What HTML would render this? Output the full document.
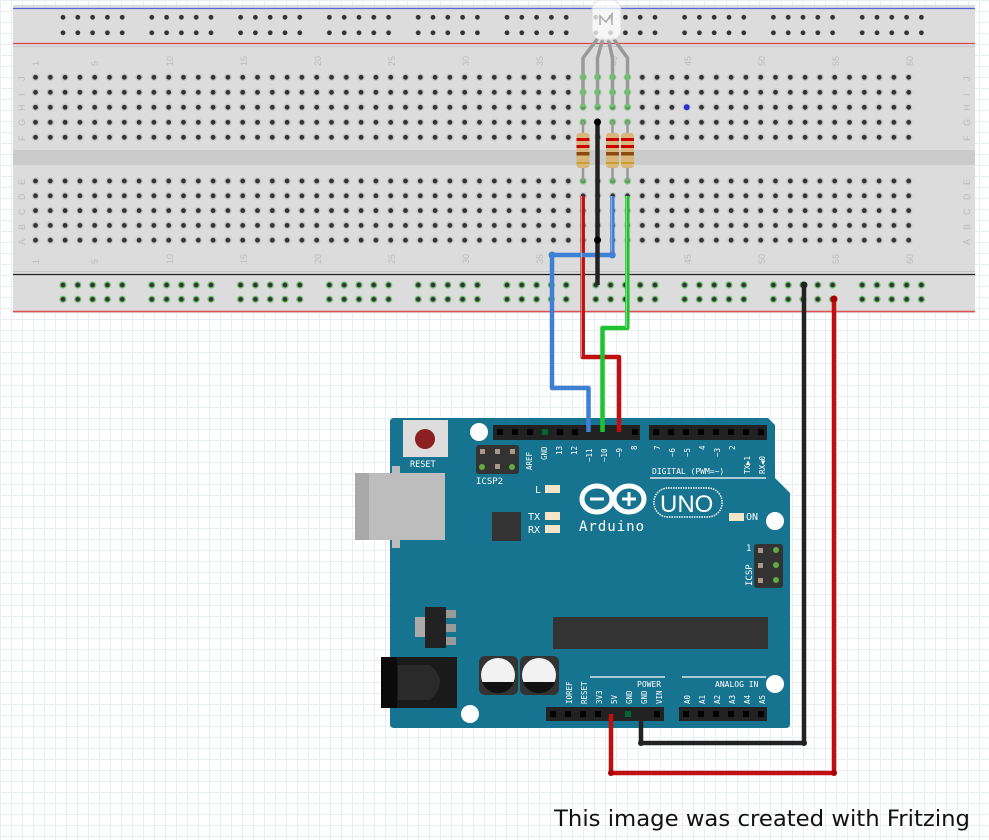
<!DOCTYPE html>
<html><head><meta charset="utf-8"><style>
html,body{margin:0;padding:0;background:#fff}
body{width:989px;height:840px;overflow:hidden;position:relative;
background-image:linear-gradient(#e9eef2 1px,transparent 1px),linear-gradient(90deg,#e9eef2 1px,transparent 1px);background-size:11px 11px}
svg{position:absolute;left:0;top:0}
</style></head><body>
<svg width="989" height="840" viewBox="0 0 989 840" font-family="Liberation Sans, sans-serif">
<defs>
<pattern id="h" x="28.5" y="70" width="14.8" height="15" patternUnits="userSpaceOnUse">
<circle cx="7" cy="7.3" r="3.8" fill="#c8c8c8"/><circle cx="7" cy="7.3" r="2.4" fill="#333"/></pattern>
<pattern id="hb" x="28.5" y="174" width="14.8" height="14.8" patternUnits="userSpaceOnUse">
<circle cx="7" cy="7" r="3.8" fill="#c8c8c8"/><circle cx="7" cy="7" r="2.4" fill="#333"/></pattern>
<pattern id="rt" x="56" y="10" width="88.8" height="15.5" patternUnits="userSpaceOnUse">
<g fill="#333"><circle cx="7" cy="7.3" r="2.4"/><circle cx="21.8" cy="7.3" r="2.4"/><circle cx="36.6" cy="7.3" r="2.4"/><circle cx="51.4" cy="7.3" r="2.4"/><circle cx="66.2" cy="7.3" r="2.4"/></g></pattern>
<pattern id="rb" x="56" y="278" width="88.8" height="14.3" patternUnits="userSpaceOnUse">
<g fill="#2a2" opacity=".6"><circle cx="7" cy="7" r="3.6"/><circle cx="21.8" cy="7" r="3.6"/><circle cx="36.6" cy="7" r="3.6"/><circle cx="51.4" cy="7" r="3.6"/><circle cx="66.2" cy="7" r="3.6"/></g>
<g fill="#333"><circle cx="7" cy="7" r="2.3"/><circle cx="21.8" cy="7" r="2.3"/><circle cx="36.6" cy="7" r="2.3"/><circle cx="51.4" cy="7" r="2.3"/><circle cx="66.2" cy="7" r="2.3"/></g></pattern>
</defs>
<rect x="13" y="5" width="962" height="308" fill="#dcdcdc"/>
<line x1="13" y1="8.5" x2="975" y2="8.5" stroke="#5a64d8" stroke-width="1.2"/>
<line x1="13" y1="43.5" x2="975" y2="43.5" stroke="#d84848" stroke-width="1.2"/>
<line x1="13" y1="46.5" x2="975" y2="46.5" stroke="#c6c6c6" stroke-width="1"/>
<rect x="13" y="150" width="962" height="15" fill="#cbcbcb"/>
<line x1="13" y1="271.5" x2="975" y2="271.5" stroke="#c6c6c6"/>
<line x1="13" y1="274.5" x2="975" y2="274.5" stroke="#222" stroke-width="1.2"/>
<line x1="13" y1="311.5" x2="975" y2="311.5" stroke="#e05050" stroke-width="1.5"/>
<rect x="28" y="70" width="890" height="75" fill="url(#h)"/>
<rect x="28" y="174" width="890" height="74" fill="url(#hb)"/>
<rect x="56" y="10" width="876" height="31" fill="url(#rt)"/>
<rect x="56" y="278" width="876" height="29" fill="url(#rb)"/>
<g fill="#bbb" font-size="9">
<g transform="rotate(-90)">
<text x="-66" y="39">1</text><text x="-66" y="98">5</text><text x="-66" y="173">10</text><text x="-66" y="247">15</text><text x="-66" y="321">20</text><text x="-66" y="395">25</text><text x="-66" y="469">30</text><text x="-66" y="543">35</text><text x="-66" y="617">40</text><text x="-66" y="691">45</text><text x="-66" y="765">50</text><text x="-66" y="839">55</text><text x="-66" y="913">60</text>
<text x="-264" y="39">1</text><text x="-264" y="98">5</text><text x="-264" y="173">10</text><text x="-264" y="247">15</text><text x="-264" y="321">20</text><text x="-264" y="395">25</text><text x="-264" y="469">30</text><text x="-264" y="543">35</text><text x="-264" y="691">45</text><text x="-264" y="765">50</text><text x="-264" y="839">55</text><text x="-264" y="913">60</text>
<text x="-81" y="25">J</text><text x="-96" y="25">I</text><text x="-111" y="25">H</text><text x="-126" y="25">G</text><text x="-141" y="25">F</text>
<text x="-185" y="25">E</text><text x="-200" y="25">D</text><text x="-215" y="25">C</text><text x="-230" y="25">B</text><text x="-245" y="25">A</text>
<text x="-81" y="970">J</text><text x="-96" y="970">I</text><text x="-111" y="970">H</text><text x="-126" y="970">G</text><text x="-141" y="970">F</text>
<text x="-185" y="970">E</text><text x="-200" y="970">D</text><text x="-215" y="970">C</text><text x="-230" y="970">B</text><text x="-245" y="970">A</text>
</g></g>
<circle cx="686.7" cy="107.3" r="3" fill="#3030d0"/>
<g fill="none" stroke="#999" stroke-width="3.5">
<path d="M598 38 L583 58 V107"/><path d="M603 38 L597.5 58 V107"/><path d="M608 38 L612.5 58 V107"/><path d="M613 38 L627.5 58 V107"/>
</g>
<g fill="#6c6" opacity=".7"><circle cx="583" cy="77" r="3.5"/><circle cx="597.5" cy="77" r="3.5"/><circle cx="612.5" cy="77" r="3.5"/><circle cx="627.5" cy="77" r="3.5"/>
<circle cx="583" cy="92" r="3.5"/><circle cx="597.5" cy="92" r="3.5"/><circle cx="612.5" cy="92" r="3.5"/><circle cx="627.5" cy="92" r="3.5"/>
<circle cx="583" cy="107" r="3.5"/><circle cx="597.5" cy="107" r="3.5"/><circle cx="612.5" cy="107" r="3.5"/><circle cx="627.5" cy="107" r="3.5"/>
<circle cx="583" cy="122" r="3.5"/><circle cx="612.5" cy="122" r="3.5"/><circle cx="627.5" cy="122" r="3.5"/>
<circle cx="583" cy="181" r="3.5"/><circle cx="612.5" cy="181" r="3.5"/><circle cx="627.5" cy="181" r="3.5"/></g>
<rect x="592" y="0" width="29" height="40" rx="10" fill="#fff" opacity=".75" stroke="#ddd"/>
<path d="M600 25 V16 L606 22 L612 14 V25" fill="none" stroke="#aaa" stroke-width="1.5"/>
<g>
<line x1="583" y1="121" x2="583" y2="181" stroke="#999" stroke-width="2.5"/>
<line x1="612.5" y1="121" x2="612.5" y2="181" stroke="#999" stroke-width="2.5"/>
<line x1="627.5" y1="121" x2="627.5" y2="181" stroke="#999" stroke-width="2.5"/>
<g fill="#d9b77a"><rect x="576.5" y="133" width="13" height="35" rx="3"/><rect x="606" y="133" width="13" height="35" rx="3"/><rect x="621" y="133" width="13" height="35" rx="3"/></g>
<g fill="#c00"><rect x="576.5" y="138" width="13" height="3"/><rect x="576.5" y="145" width="13" height="3"/><rect x="606" y="138" width="13" height="3"/><rect x="606" y="145" width="13" height="3"/><rect x="621" y="138" width="13" height="3"/><rect x="621" y="145" width="13" height="3"/></g>
<g fill="#8a4a10"><rect x="576.5" y="152" width="13" height="3.5"/><rect x="606" y="152" width="13" height="3.5"/><rect x="621" y="152" width="13" height="3.5"/></g>
<g fill="#c9a030"><rect x="576.5" y="162" width="13" height="2"/><rect x="606" y="162" width="13" height="2"/><rect x="621" y="162" width="13" height="2"/></g>
</g>
<path d="M394 418 H768 L775 425 V478 L790 493 V724 Q790 728 786 728 H394 Q390 728 390 724 V422 Q390 418 394 418Z" fill="#167490"/>
<g fill="#fff"><circle cx="479" cy="432" r="9"/><circle cx="775" cy="521" r="9"/><circle cx="775" cy="684" r="9"/><circle cx="470" cy="714" r="9"/></g>
<rect x="493" y="425" width="147" height="15" fill="#222"/>
<rect x="649" y="425" width="118" height="15" fill="#222"/>
<g fill="#000"><rect x="497" y="429" width="6" height="6"/><rect x="512" y="429" width="6" height="6"/><rect x="527" y="429" width="6" height="6"/><rect x="542" y="429" width="6" height="6" fill="#063"/><rect x="557" y="429" width="6" height="6"/><rect x="572" y="429" width="6" height="6"/><rect x="632" y="429" width="6" height="6"/>
<rect x="653" y="429" width="6" height="6"/><rect x="668" y="429" width="6" height="6"/><rect x="683" y="429" width="6" height="6"/><rect x="698" y="429" width="6" height="6"/><rect x="713" y="429" width="6" height="6"/><rect x="728" y="429" width="6" height="6"/><rect x="743" y="429" width="6" height="6"/><rect x="758" y="429" width="6" height="6"/></g>
<rect x="546" y="707" width="118" height="14" fill="#222"/>
<rect x="679" y="707" width="88" height="14" fill="#222"/>
<g fill="#000"><rect x="550" y="711" width="6" height="6"/><rect x="565" y="711" width="6" height="6"/><rect x="580" y="711" width="6" height="6"/><rect x="595" y="711" width="6" height="6"/><rect x="625" y="711" width="6" height="6" fill="#063"/><rect x="654" y="711" width="6" height="6"/>
<rect x="683" y="711" width="6" height="6"/><rect x="698" y="711" width="6" height="6"/><rect x="713" y="711" width="6" height="6"/><rect x="728" y="711" width="6" height="6"/><rect x="743" y="711" width="6" height="6"/><rect x="758" y="711" width="6" height="6"/></g>
<g fill="#fff" font-size="7.5" font-family="DejaVu Sans Mono, monospace">
<g transform="rotate(-90)">
<text x="-470" y="532">AREF</text><text x="-460" y="547">GND</text><text x="-455" y="562">13</text><text x="-455" y="577">12</text><text x="-462" y="592">~11</text><text x="-462" y="607">~10</text><text x="-457" y="622">~9</text><text x="-450" y="637">8</text>
<text x="-450" y="660">7</text><text x="-457" y="675">~6</text><text x="-457" y="690">~5</text><text x="-450" y="705">4</text><text x="-457" y="720">~3</text><text x="-450" y="735">2</text><text x="-474" y="750">TX▶1</text><text x="-474" y="765">RX◀0</text>
<text x="-704" y="572">IOREF</text><text x="-704" y="587">RESET</text><text x="-704" y="602">3V3</text><text x="-704" y="617">5V</text><text x="-704" y="632">GND</text><text x="-704" y="647">GND</text><text x="-704" y="662">VIN</text>
<text x="-704" y="690">A0</text><text x="-704" y="705">A1</text><text x="-704" y="720">A2</text><text x="-704" y="735">A3</text><text x="-704" y="750">A4</text><text x="-704" y="765">A5</text>
<text x="-586" y="752" font-size="9">ICSP</text>
</g>
<text x="652" y="474" font-size="8">DIGITAL (PWM=~)</text>
<text x="637" y="687" font-size="8">POWER</text>
<text x="715" y="687" font-size="8">ANALOG IN</text>
<text x="410" y="467" font-size="8.5">RESET</text>
<text x="476" y="484" font-size="9">ICSP2</text>
<text x="535" y="493" font-size="10">L</text>
<text x="528" y="520" font-size="10">TX</text>
<text x="528" y="533" font-size="10">RX</text>
<text x="746" y="520" font-size="10">ON</text>
<text x="746" y="551" font-size="9">1</text>
<text x="579" y="531" font-size="14" letter-spacing="1">Arduino</text>
</g>
<line x1="650" y1="478" x2="766" y2="478" stroke="#fff" stroke-width="1.2"/>
<line x1="590" y1="677" x2="665" y2="677" stroke="#fff" stroke-width="1.2"/>
<line x1="682" y1="677" x2="766" y2="677" stroke="#fff" stroke-width="1.2"/>
<g fill="none" stroke="#fff" stroke-width="5"><ellipse cx="597" cy="499" rx="15" ry="13"/><ellipse cx="629" cy="499" rx="15" ry="13"/></g>
<g stroke="#fff" stroke-width="3"><line x1="590" y1="499" x2="604" y2="499"/><line x1="622" y1="499" x2="636" y2="499"/><line x1="629" y1="492" x2="629" y2="506"/></g>
<rect x="654" y="488" width="68" height="29" rx="14" fill="none" stroke="#fff" stroke-width="1.5" stroke-dasharray="1.5 1"/>
<text x="660" y="512" fill="#fff" font-size="24">UNO</text>
<rect x="403" y="420" width="45" height="37" fill="#ddd"/>
<circle cx="425" cy="439" r="10" fill="#8c2020"/>
<rect x="476" y="445" width="43" height="29" rx="3" fill="#333"/>
<g fill="#a98"><rect x="480" y="449" width="5" height="5"/><rect x="495" y="449" width="5" height="5"/><rect x="510" y="449" width="5" height="5"/><rect x="495" y="464" width="5" height="5"/></g>
<g fill="#6a4"><circle cx="482" cy="467" r="3"/><circle cx="512" cy="467" r="3"/></g>
<rect x="754" y="544" width="29" height="44" rx="3" fill="#333"/>
<g fill="#a98"><rect x="758" y="548" width="5" height="5"/><rect x="758" y="563" width="5" height="5"/><rect x="758" y="578" width="5" height="5"/></g>
<g fill="#6a4"><circle cx="776" cy="550" r="3"/><circle cx="776" cy="565" r="3"/><circle cx="776" cy="580" r="3"/></g>
<g fill="#f3e6c8"><rect x="545" y="485" width="15" height="8"/><rect x="545" y="512" width="15" height="8"/><rect x="545" y="525" width="15" height="8"/><rect x="729" y="513" width="15" height="8"/></g>
<rect x="392" y="466" width="8" height="82" fill="#bbb"/>
<rect x="355" y="473" width="90" height="67" fill="#bdbdbd"/>
<rect x="355" y="473" width="14" height="67" fill="#a8a8a8"/>
<rect x="492" y="512" width="29" height="29" fill="#333"/>
<rect x="553" y="617" width="215" height="32" fill="#333"/>
<rect x="415" y="617" width="12" height="20" fill="#aaa"/>
<g fill="#999"><rect x="444" y="610" width="12" height="8"/><rect x="444" y="624" width="12" height="8"/><rect x="444" y="637" width="12" height="8"/></g>
<rect x="425" y="607" width="21" height="41" fill="#222"/>
<rect x="381" y="657" width="76" height="51" fill="#1a1a1a"/>
<rect x="381" y="657" width="16" height="51" fill="#0a0a0a"/>
<path d="M398 665 H430 Q450 682 430 700 H398Z" fill="#2a2a2a"/>
<rect x="479" y="656" width="39" height="39" rx="6" fill="#333"/><rect x="520" y="656" width="39" height="39" rx="6" fill="#333"/>
<circle cx="498" cy="675" r="17" fill="#f2f2f2"/><circle cx="539" cy="675" r="17" fill="#f2f2f2"/>
<path d="M482 682 H514 A17 17 0 0 1 482 682Z" fill="#111"/><path d="M523 682 H555 A17 17 0 0 1 523 682Z" fill="#111"/>
<g fill="none" stroke-width="4.5" stroke-linejoin="round">
<polyline points="582.7,196 582.7,357 619,357 619,432" stroke="#c00f0f"/>
<polyline points="627.3,196 627.3,328 602.5,328 602.5,432" stroke="#1ec42e"/>
<polyline points="612.3,196 612.3,255 552,255 552,388 588.5,388 588.5,432" stroke="#3f80d4"/>
<polyline points="597.5,121 597.5,285" stroke="#222"/>
<polyline points="641,714 641,743 804,743 804,285" stroke="#222"/>
<polyline points="611,714 611,773 834,773 834,299" stroke="#c00f0f"/>
</g>
<g fill="none" stroke-width="1" opacity=".5">
<polyline points="581.5,196 581.5,357" stroke="#fff"/><polyline points="626.3,196 626.3,328" stroke="#fff"/><polyline points="611.3,196 611.3,255" stroke="#fff"/>
</g>
<g><circle cx="597.5" cy="240" r="3.5" fill="#000"/><circle cx="597.5" cy="122" r="3.5" fill="#000"/><circle cx="552" cy="255" r="3.5" fill="#3f80d4"/><circle cx="612.3" cy="255" r="3.5" fill="#3f80d4"/>
<circle cx="804" cy="285" r="3.5" fill="#222"/><circle cx="834" cy="299" r="3.5" fill="#a00"/><circle cx="804" cy="743" r="3" fill="#222"/><circle cx="834" cy="773" r="3" fill="#a00"/><circle cx="611" cy="773" r="3" fill="#a00"/><circle cx="641" cy="743" r="3" fill="#222"/></g>
<text x="554" y="826" font-size="22" fill="#111" font-family="DejaVu Sans, sans-serif" textLength="416" lengthAdjust="spacingAndGlyphs">This image was created with Fritzing</text>
</svg>
</body></html>
